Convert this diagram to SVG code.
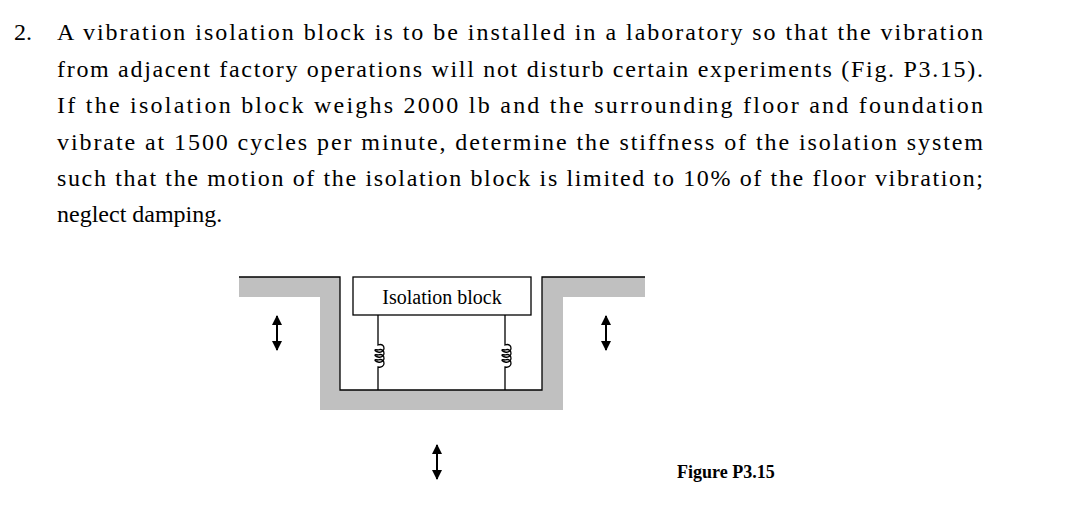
<svg xmlns="http://www.w3.org/2000/svg" width="1073" height="522" viewBox="0 0 1073 522">
<defs>
<style>
.t{font-family:"Liberation Serif",serif;font-size:24px;fill:#000}
.ln{fill:none;stroke:#000;stroke-width:1.3}
</style>
<marker id="ah" viewBox="0 0 10 10" refX="9" refY="5" markerWidth="5" markerHeight="5" orient="auto-start-reverse"><path d="M0,0 L10,5 L0,10 z" fill="#000"/></marker>
</defs>
<rect width="1073" height="522" fill="#fff"/>
<g id="text">
<text class="t" x="14" y="40">2.</text>
<text class="t" x="57" y="40" textLength="926" lengthAdjust="spacing">A vibration isolation block is to be installed in a laboratory so that the vibration</text>
<text class="t" x="57" y="77" textLength="926" lengthAdjust="spacing">from adjacent factory operations will not disturb certain experiments (Fig. P3.15).</text>
<text class="t" x="57" y="113" textLength="926" lengthAdjust="spacing">If the isolation block weighs 2000 lb and the surrounding floor and foundation</text>
<text class="t" x="57" y="150" textLength="926" lengthAdjust="spacing">vibrate at 1500 cycles per minute, determine the stiffness of the isolation system</text>
<text class="t" x="57" y="186" textLength="926" lengthAdjust="spacing">such that the motion of the isolation block is limited to 10% of the floor vibration;</text>
<text class="t" x="57" y="222">neglect damping.</text>
</g>
<g id="floor">
<path d="M239,277 H340 V390 H542 V277 H645 V297 H563 V410 H320 V297 H239 Z" fill="#c0c0c0"/>
<path class="ln" d="M239,277 H340 V390 H542 V277 H645"/>
</g>
<g id="block">
<rect x="353" y="277" width="178" height="38" fill="#fff" stroke="#000" stroke-width="1.3"/>
<text x="442" y="304" text-anchor="middle" style="font-family:'Liberation Serif',serif;font-size:20px">Isolation block</text>
</g>
<g id="springs">
<path class="ln" d="M378,315 V345 c8,-3 8,9 0,7 c-4,-1 -4,-3 0,-2 c8,-3 8,9 0,7 c-4,-1 -4,-3 0,-2 c8,-3 8,9 0,7 c-4,-1 -4,-3 0,-2 c8,-3 8,9 0,7 V390"/>
<path class="ln" d="M505,315 V345 c8,-3 8,9 0,7 c-4,-1 -4,-3 0,-2 c8,-3 8,9 0,7 c-4,-1 -4,-3 0,-2 c8,-3 8,9 0,7 c-4,-1 -4,-3 0,-2 c8,-3 8,9 0,7 V390"/>
</g>
<g id="connectors">
<line x1="277" y1="316" x2="277" y2="350" stroke="#000" stroke-width="2" marker-start="url(#ah)" marker-end="url(#ah)"/>
<line x1="606" y1="316" x2="606" y2="350" stroke="#000" stroke-width="2" marker-start="url(#ah)" marker-end="url(#ah)"/>
<line x1="437" y1="445" x2="437" y2="479" stroke="#000" stroke-width="2" marker-start="url(#ah)" marker-end="url(#ah)"/>
</g>
<text x="677" y="478" style="font-family:'Liberation Serif',serif;font-size:18px;font-weight:bold">Figure P3.15</text>
</svg>
